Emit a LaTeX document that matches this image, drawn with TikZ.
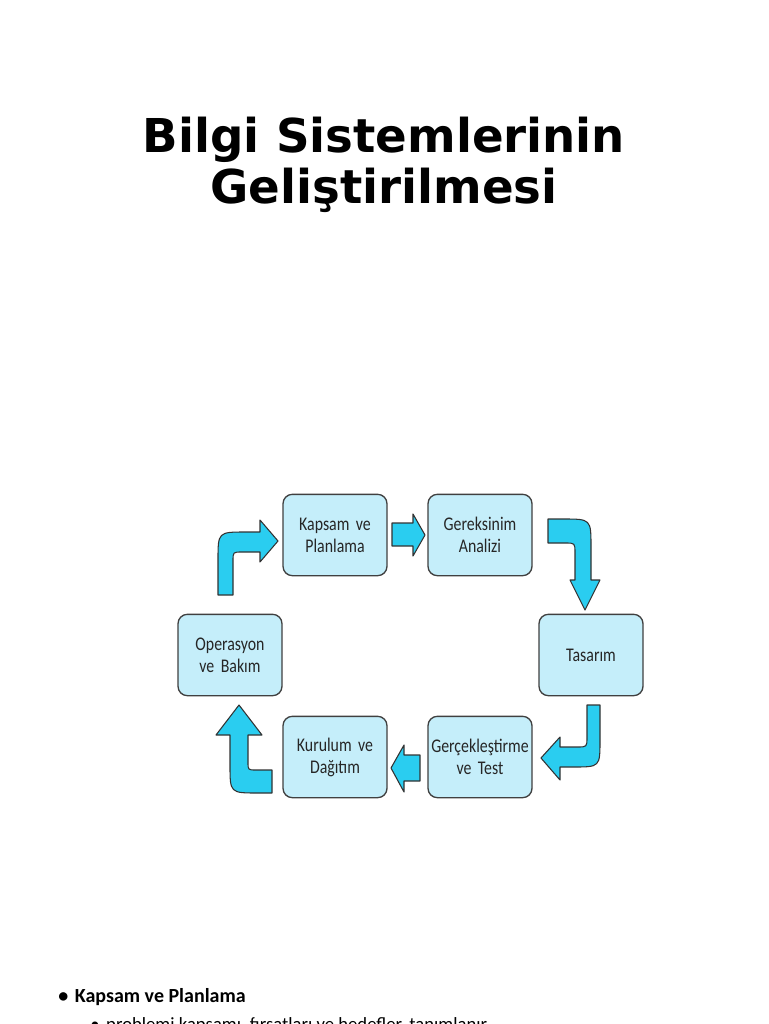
\documentclass[tikz,border=0pt]{standalone}
\usepackage{fontspec}
\setmainfont{DejaVu Sans}
\newfontfamily\carlfont{Carlito}
\newfontfamily\narrowfont[FakeStretch=0.82]{Carlito}
\begin{document}
\begin{tikzpicture}[x=0.75pt,y=-0.75pt,
  box/.style={draw=black!75,line width=1pt,fill=boxfill,rounded corners=7pt,minimum width=78pt,minimum height=61pt,text width=74pt,inner sep=1pt,font=\narrowfont\fontsize{14.5}{16.5}\selectfont,align=center,text=black!85},
  arr/.style={fill=arrfill,draw=black!80,line width=0.8pt,line join=round}]
\definecolor{boxfill}{HTML}{C5EEFA}
\definecolor{arrfill}{HTML}{2ACDF0}
\useasboundingbox (0,0) rectangle (768,1024);
\node[font=\bfseries\fontsize{35}{38}\selectfont,align=center] (title) at (384,165) {Bilgi Sistemlerinin\\Geliştirilmesi};
\node[box] (kp) at (335,535) {Kapsam ve\\Planlama};
\node[box] (ga) at (480,535) {Gereksinim\\Analizi};
\node[box] (ta) at (591,655) {Tasarım\\[8pt]};
\node[box] (gt) at (480,757) {Gerçekleştirme\\ve Test};
\node[box] (kd) at (335,757) {Kurulum ve\\Dağıtım};
\node[box] (ob) at (230,655) {Operasyon\\ve Bakım};
% arrows
\draw[arr] (218,595) -- (218,560) .. controls (218,532) .. (246,532) -- (260,532) -- (260,520) -- (278,541) -- (260,562) -- (260,552) -- (242,552) .. controls (233,552) .. (233,561) -- (233,595) -- cycle;
\draw[arr] (392,523) -- (413,523) -- (413,514) -- (425,535) -- (413,556) -- (413,546) -- (392,546) -- cycle;
\draw[arr] (548,519) -- (563,519) .. controls (591,519) .. (591,547) -- (591,580) -- (600,580) -- (585,610) -- (570,580) -- (575,580) -- (575,553) .. controls (575,543) .. (565,543) -- (548,543) -- cycle;
\draw[arr] (587,705) -- (600,705) -- (600,740) .. controls (600,767) .. (573,767) -- (560,767) -- (560,780) -- (541,758) -- (560,737) -- (560,747) -- (577,747) .. controls (587,747) .. (587,737) -- cycle;
\draw[arr] (420,755) -- (404,755) -- (404,745) -- (391,768) -- (404,792) -- (404,781) -- (420,781) -- cycle;
\draw[arr] (272,770) -- (256,770) .. controls (248,770) .. (248,762) -- (248,735) -- (262,735) -- (239,705) -- (216,735) -- (230,735) -- (230,765) .. controls (230,793) .. (258,793) -- (272,793) -- cycle;
% bullets
\node[anchor=base west,font=\carlfont\bfseries\fontsize{15}{18}\selectfont,inner sep=0] (b1) at (58,1002) {•\hspace{5pt}Kapsam ve Planlama};
\node[anchor=base west,font=\carlfont\fontsize{14}{16}\selectfont,inner sep=0] (b2) at (90,1030) {•\hspace{5pt}problemi kapsamı, fırsatları ve hedefler, tanımlanır};
\end{tikzpicture}
\end{document}
